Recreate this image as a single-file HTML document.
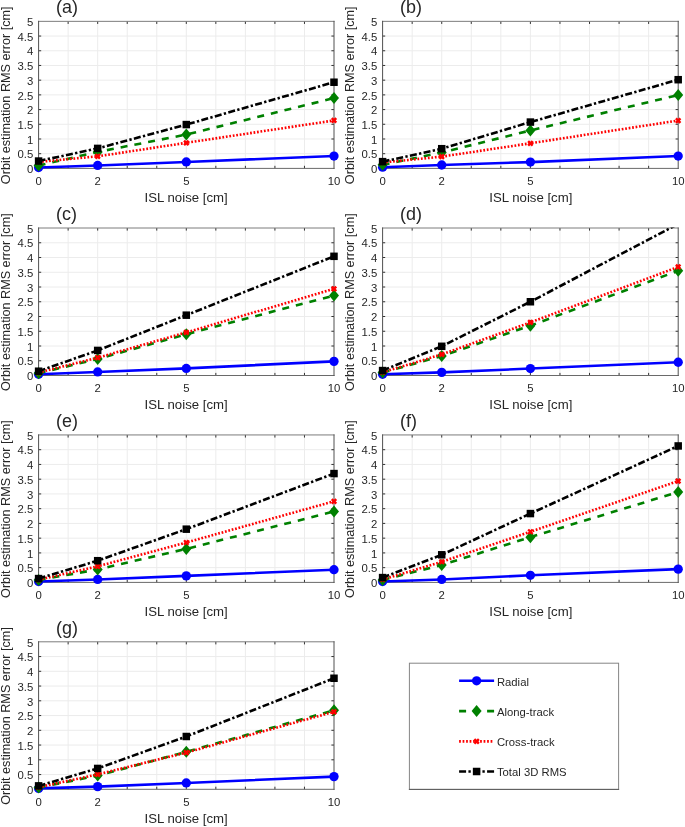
<!DOCTYPE html>
<html lang="en"><head><meta charset="utf-8"><title>Orbit estimation RMS error vs ISL noise</title>
<style>
html,body{margin:0;padding:0;background:#fff}
svg{display:block;font-family:'Liberation Sans', sans-serif;fill:#262626}
</style></head>
<body>
<svg width="685" height="827" viewBox="0 0 685 827">
<rect width="685" height="827" fill="#fff"/>
<g id="ax-a">
<path d="M68.14 21.35V168.4M97.68 21.35V168.4M127.22 21.35V168.4M156.76 21.35V168.4M186.3 21.35V168.4M215.84 21.35V168.4M245.38 21.35V168.4M274.92 21.35V168.4M304.46 21.35V168.4M38.6 153.69H334M38.6 138.99H334M38.6 124.28H334M38.6 109.58H334M38.6 94.88H334M38.6 80.17H334M38.6 65.46H334M38.6 50.76H334M38.6 36.05H334" stroke="#ececec" stroke-width="1" fill="none"/>
<path d="M68.14 168.4v-2.6M68.14 21.35v2.6M97.68 168.4v-2.6M97.68 21.35v2.6M127.22 168.4v-2.6M127.22 21.35v2.6M156.76 168.4v-2.6M156.76 21.35v2.6M186.3 168.4v-2.6M186.3 21.35v2.6M215.84 168.4v-2.6M215.84 21.35v2.6M245.38 168.4v-2.6M245.38 21.35v2.6M274.92 168.4v-2.6M274.92 21.35v2.6M304.46 168.4v-2.6M304.46 21.35v2.6M38.6 153.69h2.6M334 153.69h-2.6M38.6 138.99h2.6M334 138.99h-2.6M38.6 124.28h2.6M334 124.28h-2.6M38.6 109.58h2.6M334 109.58h-2.6M38.6 94.88h2.6M334 94.88h-2.6M38.6 80.17h2.6M334 80.17h-2.6M38.6 65.46h2.6M334 65.46h-2.6M38.6 50.76h2.6M334 50.76h-2.6M38.6 36.05h2.6M334 36.05h-2.6" stroke="#333" stroke-width="1" fill="none"/>
<path d="M38.1 21.35H334.5" stroke="#7c7c7c" stroke-width="1" fill="none"/>
<path d="M38.1 168.4H334.5" stroke="#6a6a6a" stroke-width="1" fill="none"/>
<path d="M38.6 20.85V168.9M334 20.85V168.9" stroke="#505050" stroke-width="1" fill="none"/>
<clipPath id="cp-a"><rect x="38.1" y="20.85" width="296.4" height="148.05"/></clipPath>
<text transform="translate(33.3,173.1) scale(1,0.91)" font-size="11.35" text-anchor="end">0</text>
<text transform="translate(33.3,158.39) scale(1,0.91)" font-size="11.35" text-anchor="end">0.5</text>
<text transform="translate(33.3,143.69) scale(1,0.91)" font-size="11.35" text-anchor="end">1</text>
<text transform="translate(33.3,128.98) scale(1,0.91)" font-size="11.35" text-anchor="end">1.5</text>
<text transform="translate(33.3,114.28) scale(1,0.91)" font-size="11.35" text-anchor="end">2</text>
<text transform="translate(33.3,99.58) scale(1,0.91)" font-size="11.35" text-anchor="end">2.5</text>
<text transform="translate(33.3,84.87) scale(1,0.91)" font-size="11.35" text-anchor="end">3</text>
<text transform="translate(33.3,70.16) scale(1,0.91)" font-size="11.35" text-anchor="end">3.5</text>
<text transform="translate(33.3,55.46) scale(1,0.91)" font-size="11.35" text-anchor="end">4</text>
<text transform="translate(33.3,40.75) scale(1,0.91)" font-size="11.35" text-anchor="end">4.5</text>
<text transform="translate(33.3,26.05) scale(1,0.91)" font-size="11.35" text-anchor="end">5</text>
<text transform="translate(38.6,185.2) scale(1,0.91)" font-size="11.35" text-anchor="middle">0</text>
<text transform="translate(97.68,185.2) scale(1,0.91)" font-size="11.35" text-anchor="middle">2</text>
<text transform="translate(186.3,185.2) scale(1,0.91)" font-size="11.35" text-anchor="middle">5</text>
<text transform="translate(334,185.2) scale(1,0.91)" font-size="11.35" text-anchor="middle">10</text>
<text transform="translate(186.1,202.3) scale(1,0.93)" font-size="13.2" text-anchor="middle">ISL noise [cm]</text>
<text transform="translate(10.3,95.28) rotate(-90)" font-size="12.65" text-anchor="middle">Orbit estimation RMS error [cm]</text>
<text transform="translate(56.1,13.05) scale(1,0.97)" font-size="18" text-anchor="start">(a)</text>
<polyline points="38.6,167.52 97.68,165.46 186.3,161.93 334,156.05" fill="none" stroke="#0000ff" stroke-width="2.6" clip-path="url(#cp-a)"/>
<circle cx="38.6" cy="167.52" r="4.65" fill="#0000ff"/>
<circle cx="97.68" cy="165.46" r="4.65" fill="#0000ff"/>
<circle cx="186.3" cy="161.93" r="4.65" fill="#0000ff"/>
<circle cx="334" cy="156.05" r="4.65" fill="#0000ff"/>
<polyline points="38.6,165.46 97.68,151.93 186.3,134.58 334,98.11" fill="none" stroke="#008000" stroke-width="2.6" stroke-dasharray="7 7" clip-path="url(#cp-a)"/>
<polygon points="33.6,165.46 38.6,159.46 43.6,165.46 38.6,171.46" fill="#008000"/>
<polygon points="92.68,151.93 97.68,145.93 102.68,151.93 97.68,157.93" fill="#008000"/>
<polygon points="181.3,134.58 186.3,128.58 191.3,134.58 186.3,140.58" fill="#008000"/>
<polygon points="329,98.11 334,92.11 339,98.11 334,104.11" fill="#008000"/>
<polyline points="38.6,161.93 97.68,156.34 186.3,142.81 334,120.46" fill="none" stroke="#ff0000" stroke-width="2.6" stroke-dasharray="1.75 1.75" clip-path="url(#cp-a)"/>
<path d="M36.35 159.68L40.85 164.18M36.35 164.18L40.85 159.68" stroke="#ff0000" stroke-width="2.4" fill="none"/>
<path d="M95.43 154.09L99.93 158.59M95.43 158.59L99.93 154.09" stroke="#ff0000" stroke-width="2.4" fill="none"/>
<path d="M184.05 140.56L188.55 145.06M184.05 145.06L188.55 140.56" stroke="#ff0000" stroke-width="2.4" fill="none"/>
<path d="M331.75 118.21L336.25 122.71M331.75 122.71L336.25 118.21" stroke="#ff0000" stroke-width="2.4" fill="none"/>
<polyline points="38.6,161.05 97.68,148.4 186.3,124.58 334,82.23" fill="none" stroke="#000000" stroke-width="2.6" stroke-dasharray="7 2.33 2.33 2.33" clip-path="url(#cp-a)"/>
<rect x="34.85" y="157.3" width="7.5" height="7.5" fill="#000"/>
<rect x="93.93" y="144.65" width="7.5" height="7.5" fill="#000"/>
<rect x="182.55" y="120.83" width="7.5" height="7.5" fill="#000"/>
<rect x="330.25" y="78.48" width="7.5" height="7.5" fill="#000"/>
</g>
<g id="ax-b">
<path d="M412.16 21.35V168.4M441.72 21.35V168.4M471.28 21.35V168.4M500.84 21.35V168.4M530.4 21.35V168.4M559.96 21.35V168.4M589.52 21.35V168.4M619.08 21.35V168.4M648.64 21.35V168.4M382.6 153.69H678.2M382.6 138.99H678.2M382.6 124.28H678.2M382.6 109.58H678.2M382.6 94.88H678.2M382.6 80.17H678.2M382.6 65.46H678.2M382.6 50.76H678.2M382.6 36.05H678.2" stroke="#ececec" stroke-width="1" fill="none"/>
<path d="M412.16 168.4v-2.6M412.16 21.35v2.6M441.72 168.4v-2.6M441.72 21.35v2.6M471.28 168.4v-2.6M471.28 21.35v2.6M500.84 168.4v-2.6M500.84 21.35v2.6M530.4 168.4v-2.6M530.4 21.35v2.6M559.96 168.4v-2.6M559.96 21.35v2.6M589.52 168.4v-2.6M589.52 21.35v2.6M619.08 168.4v-2.6M619.08 21.35v2.6M648.64 168.4v-2.6M648.64 21.35v2.6M382.6 153.69h2.6M678.2 153.69h-2.6M382.6 138.99h2.6M678.2 138.99h-2.6M382.6 124.28h2.6M678.2 124.28h-2.6M382.6 109.58h2.6M678.2 109.58h-2.6M382.6 94.88h2.6M678.2 94.88h-2.6M382.6 80.17h2.6M678.2 80.17h-2.6M382.6 65.46h2.6M678.2 65.46h-2.6M382.6 50.76h2.6M678.2 50.76h-2.6M382.6 36.05h2.6M678.2 36.05h-2.6" stroke="#333" stroke-width="1" fill="none"/>
<path d="M382.1 21.35H678.7" stroke="#7c7c7c" stroke-width="1" fill="none"/>
<path d="M382.1 168.4H678.7" stroke="#6a6a6a" stroke-width="1" fill="none"/>
<path d="M382.6 20.85V168.9M678.2 20.85V168.9" stroke="#505050" stroke-width="1" fill="none"/>
<clipPath id="cp-b"><rect x="382.1" y="20.85" width="296.6" height="148.05"/></clipPath>
<text transform="translate(377.3,173.1) scale(1,0.91)" font-size="11.35" text-anchor="end">0</text>
<text transform="translate(377.3,158.39) scale(1,0.91)" font-size="11.35" text-anchor="end">0.5</text>
<text transform="translate(377.3,143.69) scale(1,0.91)" font-size="11.35" text-anchor="end">1</text>
<text transform="translate(377.3,128.98) scale(1,0.91)" font-size="11.35" text-anchor="end">1.5</text>
<text transform="translate(377.3,114.28) scale(1,0.91)" font-size="11.35" text-anchor="end">2</text>
<text transform="translate(377.3,99.58) scale(1,0.91)" font-size="11.35" text-anchor="end">2.5</text>
<text transform="translate(377.3,84.87) scale(1,0.91)" font-size="11.35" text-anchor="end">3</text>
<text transform="translate(377.3,70.16) scale(1,0.91)" font-size="11.35" text-anchor="end">3.5</text>
<text transform="translate(377.3,55.46) scale(1,0.91)" font-size="11.35" text-anchor="end">4</text>
<text transform="translate(377.3,40.75) scale(1,0.91)" font-size="11.35" text-anchor="end">4.5</text>
<text transform="translate(377.3,26.05) scale(1,0.91)" font-size="11.35" text-anchor="end">5</text>
<text transform="translate(382.6,185.2) scale(1,0.91)" font-size="11.35" text-anchor="middle">0</text>
<text transform="translate(441.72,185.2) scale(1,0.91)" font-size="11.35" text-anchor="middle">2</text>
<text transform="translate(530.4,185.2) scale(1,0.91)" font-size="11.35" text-anchor="middle">5</text>
<text transform="translate(678.2,185.2) scale(1,0.91)" font-size="11.35" text-anchor="middle">10</text>
<text transform="translate(530.8,202.3) scale(1,0.93)" font-size="13.2" text-anchor="middle">ISL noise [cm]</text>
<text transform="translate(354.3,95.28) rotate(-90)" font-size="12.65" text-anchor="middle">Orbit estimation RMS error [cm]</text>
<text transform="translate(400.1,13.05) scale(1,0.97)" font-size="18" text-anchor="start">(b)</text>
<polyline points="382.6,167.22 441.72,165.02 530.4,162.08 678.2,156.05" fill="none" stroke="#0000ff" stroke-width="2.6" clip-path="url(#cp-b)"/>
<circle cx="382.6" cy="167.22" r="4.65" fill="#0000ff"/>
<circle cx="441.72" cy="165.02" r="4.65" fill="#0000ff"/>
<circle cx="530.4" cy="162.08" r="4.65" fill="#0000ff"/>
<circle cx="678.2" cy="156.05" r="4.65" fill="#0000ff"/>
<polyline points="382.6,164.87 441.72,152.52 530.4,130.46 678.2,95.02" fill="none" stroke="#008000" stroke-width="2.6" stroke-dasharray="7 7" clip-path="url(#cp-b)"/>
<polygon points="377.6,164.87 382.6,158.87 387.6,164.87 382.6,170.87" fill="#008000"/>
<polygon points="436.72,152.52 441.72,146.52 446.72,152.52 441.72,158.52" fill="#008000"/>
<polygon points="525.4,130.46 530.4,124.46 535.4,130.46 530.4,136.46" fill="#008000"/>
<polygon points="673.2,95.02 678.2,89.02 683.2,95.02 678.2,101.02" fill="#008000"/>
<polyline points="382.6,162.52 441.72,156.64 530.4,143.28 678.2,120.55" fill="none" stroke="#ff0000" stroke-width="2.6" stroke-dasharray="1.75 1.75" clip-path="url(#cp-b)"/>
<path d="M380.35 160.27L384.85 164.77M380.35 164.77L384.85 160.27" stroke="#ff0000" stroke-width="2.4" fill="none"/>
<path d="M439.47 154.39L443.97 158.89M439.47 158.89L443.97 154.39" stroke="#ff0000" stroke-width="2.4" fill="none"/>
<path d="M528.15 141.03L532.65 145.53M528.15 145.53L532.65 141.03" stroke="#ff0000" stroke-width="2.4" fill="none"/>
<path d="M675.95 118.3L680.45 122.8M675.95 122.8L680.45 118.3" stroke="#ff0000" stroke-width="2.4" fill="none"/>
<polyline points="382.6,161.64 441.72,148.7 530.4,122.08 678.2,79.7" fill="none" stroke="#000000" stroke-width="2.6" stroke-dasharray="7 2.33 2.33 2.33" clip-path="url(#cp-b)"/>
<rect x="378.85" y="157.89" width="7.5" height="7.5" fill="#000"/>
<rect x="437.97" y="144.95" width="7.5" height="7.5" fill="#000"/>
<rect x="526.65" y="118.33" width="7.5" height="7.5" fill="#000"/>
<rect x="674.45" y="75.95" width="7.5" height="7.5" fill="#000"/>
</g>
<g id="ax-c">
<path d="M68.14 228V375.5M97.68 228V375.5M127.22 228V375.5M156.76 228V375.5M186.3 228V375.5M215.84 228V375.5M245.38 228V375.5M274.92 228V375.5M304.46 228V375.5M38.6 360.75H334M38.6 346H334M38.6 331.25H334M38.6 316.5H334M38.6 301.75H334M38.6 287H334M38.6 272.25H334M38.6 257.5H334M38.6 242.75H334" stroke="#ececec" stroke-width="1" fill="none"/>
<path d="M68.14 375.5v-2.6M68.14 228v2.6M97.68 375.5v-2.6M97.68 228v2.6M127.22 375.5v-2.6M127.22 228v2.6M156.76 375.5v-2.6M156.76 228v2.6M186.3 375.5v-2.6M186.3 228v2.6M215.84 375.5v-2.6M215.84 228v2.6M245.38 375.5v-2.6M245.38 228v2.6M274.92 375.5v-2.6M274.92 228v2.6M304.46 375.5v-2.6M304.46 228v2.6M38.6 360.75h2.6M334 360.75h-2.6M38.6 346h2.6M334 346h-2.6M38.6 331.25h2.6M334 331.25h-2.6M38.6 316.5h2.6M334 316.5h-2.6M38.6 301.75h2.6M334 301.75h-2.6M38.6 287h2.6M334 287h-2.6M38.6 272.25h2.6M334 272.25h-2.6M38.6 257.5h2.6M334 257.5h-2.6M38.6 242.75h2.6M334 242.75h-2.6" stroke="#333" stroke-width="1" fill="none"/>
<path d="M38.1 228H334.5" stroke="#7c7c7c" stroke-width="1" fill="none"/>
<path d="M38.1 375.5H334.5" stroke="#6a6a6a" stroke-width="1" fill="none"/>
<path d="M38.6 227.5V376M334 227.5V376" stroke="#505050" stroke-width="1" fill="none"/>
<clipPath id="cp-c"><rect x="38.1" y="227.5" width="296.4" height="148.5"/></clipPath>
<text transform="translate(33.3,380.2) scale(1,0.91)" font-size="11.35" text-anchor="end">0</text>
<text transform="translate(33.3,365.45) scale(1,0.91)" font-size="11.35" text-anchor="end">0.5</text>
<text transform="translate(33.3,350.7) scale(1,0.91)" font-size="11.35" text-anchor="end">1</text>
<text transform="translate(33.3,335.95) scale(1,0.91)" font-size="11.35" text-anchor="end">1.5</text>
<text transform="translate(33.3,321.2) scale(1,0.91)" font-size="11.35" text-anchor="end">2</text>
<text transform="translate(33.3,306.45) scale(1,0.91)" font-size="11.35" text-anchor="end">2.5</text>
<text transform="translate(33.3,291.7) scale(1,0.91)" font-size="11.35" text-anchor="end">3</text>
<text transform="translate(33.3,276.95) scale(1,0.91)" font-size="11.35" text-anchor="end">3.5</text>
<text transform="translate(33.3,262.2) scale(1,0.91)" font-size="11.35" text-anchor="end">4</text>
<text transform="translate(33.3,247.45) scale(1,0.91)" font-size="11.35" text-anchor="end">4.5</text>
<text transform="translate(33.3,232.7) scale(1,0.91)" font-size="11.35" text-anchor="end">5</text>
<text transform="translate(38.6,392.3) scale(1,0.91)" font-size="11.35" text-anchor="middle">0</text>
<text transform="translate(97.68,392.3) scale(1,0.91)" font-size="11.35" text-anchor="middle">2</text>
<text transform="translate(186.3,392.3) scale(1,0.91)" font-size="11.35" text-anchor="middle">5</text>
<text transform="translate(334,392.3) scale(1,0.91)" font-size="11.35" text-anchor="middle">10</text>
<text transform="translate(186.1,409.4) scale(1,0.93)" font-size="13.2" text-anchor="middle">ISL noise [cm]</text>
<text transform="translate(10.3,302.15) rotate(-90)" font-size="12.65" text-anchor="middle">Orbit estimation RMS error [cm]</text>
<text transform="translate(56.1,219.7) scale(1,0.97)" font-size="18" text-anchor="start">(c)</text>
<polyline points="38.6,374.32 97.68,371.96 186.3,368.42 334,361.34" fill="none" stroke="#0000ff" stroke-width="2.6" clip-path="url(#cp-c)"/>
<circle cx="38.6" cy="374.32" r="4.65" fill="#0000ff"/>
<circle cx="97.68" cy="371.96" r="4.65" fill="#0000ff"/>
<circle cx="186.3" cy="368.42" r="4.65" fill="#0000ff"/>
<circle cx="334" cy="361.34" r="4.65" fill="#0000ff"/>
<polyline points="38.6,373.14 97.68,358.98 186.3,334.2 334,295.56" fill="none" stroke="#008000" stroke-width="2.6" stroke-dasharray="7 7" clip-path="url(#cp-c)"/>
<polygon points="33.6,373.14 38.6,367.14 43.6,373.14 38.6,379.14" fill="#008000"/>
<polygon points="92.68,358.98 97.68,352.98 102.68,358.98 97.68,364.98" fill="#008000"/>
<polygon points="181.3,334.2 186.3,328.2 191.3,334.2 186.3,340.2" fill="#008000"/>
<polygon points="329,295.56 334,289.56 339,295.56 334,301.56" fill="#008000"/>
<polyline points="38.6,372.55 97.68,357.65 186.3,332.43 334,288.86" fill="none" stroke="#ff0000" stroke-width="2.6" stroke-dasharray="1.75 1.75" clip-path="url(#cp-c)"/>
<path d="M36.35 370.3L40.85 374.8M36.35 374.8L40.85 370.3" stroke="#ff0000" stroke-width="2.4" fill="none"/>
<path d="M95.43 355.4L99.93 359.9M95.43 359.9L99.93 355.4" stroke="#ff0000" stroke-width="2.4" fill="none"/>
<path d="M184.05 330.18L188.55 334.68M184.05 334.68L188.55 330.18" stroke="#ff0000" stroke-width="2.4" fill="none"/>
<path d="M331.75 286.61L336.25 291.11M331.75 291.11L336.25 286.61" stroke="#ff0000" stroke-width="2.4" fill="none"/>
<polyline points="38.6,371.22 97.68,350.43 186.3,315.17 334,256.32" fill="none" stroke="#000000" stroke-width="2.6" stroke-dasharray="7 2.33 2.33 2.33" clip-path="url(#cp-c)"/>
<rect x="34.85" y="367.47" width="7.5" height="7.5" fill="#000"/>
<rect x="93.93" y="346.68" width="7.5" height="7.5" fill="#000"/>
<rect x="182.55" y="311.42" width="7.5" height="7.5" fill="#000"/>
<rect x="330.25" y="252.57" width="7.5" height="7.5" fill="#000"/>
</g>
<g id="ax-d">
<path d="M412.16 228V375.5M441.72 228V375.5M471.28 228V375.5M500.84 228V375.5M530.4 228V375.5M559.96 228V375.5M589.52 228V375.5M619.08 228V375.5M648.64 228V375.5M382.6 360.75H678.2M382.6 346H678.2M382.6 331.25H678.2M382.6 316.5H678.2M382.6 301.75H678.2M382.6 287H678.2M382.6 272.25H678.2M382.6 257.5H678.2M382.6 242.75H678.2" stroke="#ececec" stroke-width="1" fill="none"/>
<path d="M412.16 375.5v-2.6M412.16 228v2.6M441.72 375.5v-2.6M441.72 228v2.6M471.28 375.5v-2.6M471.28 228v2.6M500.84 375.5v-2.6M500.84 228v2.6M530.4 375.5v-2.6M530.4 228v2.6M559.96 375.5v-2.6M559.96 228v2.6M589.52 375.5v-2.6M589.52 228v2.6M619.08 375.5v-2.6M619.08 228v2.6M648.64 375.5v-2.6M648.64 228v2.6M382.6 360.75h2.6M678.2 360.75h-2.6M382.6 346h2.6M678.2 346h-2.6M382.6 331.25h2.6M678.2 331.25h-2.6M382.6 316.5h2.6M678.2 316.5h-2.6M382.6 301.75h2.6M678.2 301.75h-2.6M382.6 287h2.6M678.2 287h-2.6M382.6 272.25h2.6M678.2 272.25h-2.6M382.6 257.5h2.6M678.2 257.5h-2.6M382.6 242.75h2.6M678.2 242.75h-2.6" stroke="#333" stroke-width="1" fill="none"/>
<path d="M382.1 228H678.7" stroke="#7c7c7c" stroke-width="1" fill="none"/>
<path d="M382.1 375.5H678.7" stroke="#6a6a6a" stroke-width="1" fill="none"/>
<path d="M382.6 227.5V376M678.2 227.5V376" stroke="#505050" stroke-width="1" fill="none"/>
<clipPath id="cp-d"><rect x="382.1" y="227.5" width="296.6" height="148.5"/></clipPath>
<text transform="translate(377.3,380.2) scale(1,0.91)" font-size="11.35" text-anchor="end">0</text>
<text transform="translate(377.3,365.45) scale(1,0.91)" font-size="11.35" text-anchor="end">0.5</text>
<text transform="translate(377.3,350.7) scale(1,0.91)" font-size="11.35" text-anchor="end">1</text>
<text transform="translate(377.3,335.95) scale(1,0.91)" font-size="11.35" text-anchor="end">1.5</text>
<text transform="translate(377.3,321.2) scale(1,0.91)" font-size="11.35" text-anchor="end">2</text>
<text transform="translate(377.3,306.45) scale(1,0.91)" font-size="11.35" text-anchor="end">2.5</text>
<text transform="translate(377.3,291.7) scale(1,0.91)" font-size="11.35" text-anchor="end">3</text>
<text transform="translate(377.3,276.95) scale(1,0.91)" font-size="11.35" text-anchor="end">3.5</text>
<text transform="translate(377.3,262.2) scale(1,0.91)" font-size="11.35" text-anchor="end">4</text>
<text transform="translate(377.3,247.45) scale(1,0.91)" font-size="11.35" text-anchor="end">4.5</text>
<text transform="translate(377.3,232.7) scale(1,0.91)" font-size="11.35" text-anchor="end">5</text>
<text transform="translate(382.6,392.3) scale(1,0.91)" font-size="11.35" text-anchor="middle">0</text>
<text transform="translate(441.72,392.3) scale(1,0.91)" font-size="11.35" text-anchor="middle">2</text>
<text transform="translate(530.4,392.3) scale(1,0.91)" font-size="11.35" text-anchor="middle">5</text>
<text transform="translate(678.2,392.3) scale(1,0.91)" font-size="11.35" text-anchor="middle">10</text>
<text transform="translate(530.8,409.4) scale(1,0.93)" font-size="13.2" text-anchor="middle">ISL noise [cm]</text>
<text transform="translate(354.3,302.15) rotate(-90)" font-size="12.65" text-anchor="middle">Orbit estimation RMS error [cm]</text>
<text transform="translate(400.1,219.7) scale(1,0.97)" font-size="18" text-anchor="start">(d)</text>
<polyline points="382.6,374.32 441.72,372.37 530.4,368.57 678.2,362.23" fill="none" stroke="#0000ff" stroke-width="2.6" clip-path="url(#cp-d)"/>
<circle cx="382.6" cy="374.32" r="4.65" fill="#0000ff"/>
<circle cx="441.72" cy="372.37" r="4.65" fill="#0000ff"/>
<circle cx="530.4" cy="368.57" r="4.65" fill="#0000ff"/>
<circle cx="678.2" cy="362.23" r="4.65" fill="#0000ff"/>
<polyline points="382.6,372.55 441.72,356.03 530.4,325.64 678.2,270.77" fill="none" stroke="#008000" stroke-width="2.6" stroke-dasharray="7 7" clip-path="url(#cp-d)"/>
<polygon points="377.6,372.55 382.6,366.55 387.6,372.55 382.6,378.55" fill="#008000"/>
<polygon points="436.72,356.03 441.72,350.03 446.72,356.03 441.72,362.03" fill="#008000"/>
<polygon points="525.4,325.64 530.4,319.64 535.4,325.64 530.4,331.64" fill="#008000"/>
<polygon points="673.2,270.77 678.2,264.77 683.2,270.77 678.2,276.77" fill="#008000"/>
<polyline points="382.6,372.25 441.72,354.44 530.4,322.4 678.2,266.94" fill="none" stroke="#ff0000" stroke-width="2.6" stroke-dasharray="1.75 1.75" clip-path="url(#cp-d)"/>
<path d="M380.35 370L384.85 374.5M380.35 374.5L384.85 370" stroke="#ff0000" stroke-width="2.4" fill="none"/>
<path d="M439.47 352.19L443.97 356.69M439.47 356.69L443.97 352.19" stroke="#ff0000" stroke-width="2.4" fill="none"/>
<path d="M528.15 320.15L532.65 324.65M528.15 324.65L532.65 320.15" stroke="#ff0000" stroke-width="2.4" fill="none"/>
<path d="M675.95 264.69L680.45 269.19M675.95 269.19L680.45 264.69" stroke="#ff0000" stroke-width="2.4" fill="none"/>
<polyline points="382.6,370.57 441.72,346.3 530.4,301.75 678.2,223.96" fill="none" stroke="#000000" stroke-width="2.6" stroke-dasharray="7 2.33 2.33 2.33" clip-path="url(#cp-d)"/>
<rect x="378.85" y="366.82" width="7.5" height="7.5" fill="#000"/>
<rect x="437.97" y="342.55" width="7.5" height="7.5" fill="#000"/>
<rect x="526.65" y="298" width="7.5" height="7.5" fill="#000"/>
</g>
<g id="ax-e">
<path d="M68.14 434.95V582.4M97.68 434.95V582.4M127.22 434.95V582.4M156.76 434.95V582.4M186.3 434.95V582.4M215.84 434.95V582.4M245.38 434.95V582.4M274.92 434.95V582.4M304.46 434.95V582.4M38.6 567.65H334M38.6 552.91H334M38.6 538.16H334M38.6 523.42H334M38.6 508.67H334M38.6 493.93H334M38.6 479.19H334M38.6 464.44H334M38.6 449.69H334" stroke="#ececec" stroke-width="1" fill="none"/>
<path d="M68.14 582.4v-2.6M68.14 434.95v2.6M97.68 582.4v-2.6M97.68 434.95v2.6M127.22 582.4v-2.6M127.22 434.95v2.6M156.76 582.4v-2.6M156.76 434.95v2.6M186.3 582.4v-2.6M186.3 434.95v2.6M215.84 582.4v-2.6M215.84 434.95v2.6M245.38 582.4v-2.6M245.38 434.95v2.6M274.92 582.4v-2.6M274.92 434.95v2.6M304.46 582.4v-2.6M304.46 434.95v2.6M38.6 567.65h2.6M334 567.65h-2.6M38.6 552.91h2.6M334 552.91h-2.6M38.6 538.16h2.6M334 538.16h-2.6M38.6 523.42h2.6M334 523.42h-2.6M38.6 508.67h2.6M334 508.67h-2.6M38.6 493.93h2.6M334 493.93h-2.6M38.6 479.19h2.6M334 479.19h-2.6M38.6 464.44h2.6M334 464.44h-2.6M38.6 449.69h2.6M334 449.69h-2.6" stroke="#333" stroke-width="1" fill="none"/>
<path d="M38.1 434.95H334.5" stroke="#7c7c7c" stroke-width="1" fill="none"/>
<path d="M38.1 582.4H334.5" stroke="#6a6a6a" stroke-width="1" fill="none"/>
<path d="M38.6 434.45V582.9M334 434.45V582.9" stroke="#505050" stroke-width="1" fill="none"/>
<clipPath id="cp-e"><rect x="38.1" y="434.45" width="296.4" height="148.45"/></clipPath>
<text transform="translate(33.3,587.1) scale(1,0.91)" font-size="11.35" text-anchor="end">0</text>
<text transform="translate(33.3,572.36) scale(1,0.91)" font-size="11.35" text-anchor="end">0.5</text>
<text transform="translate(33.3,557.61) scale(1,0.91)" font-size="11.35" text-anchor="end">1</text>
<text transform="translate(33.3,542.87) scale(1,0.91)" font-size="11.35" text-anchor="end">1.5</text>
<text transform="translate(33.3,528.12) scale(1,0.91)" font-size="11.35" text-anchor="end">2</text>
<text transform="translate(33.3,513.38) scale(1,0.91)" font-size="11.35" text-anchor="end">2.5</text>
<text transform="translate(33.3,498.63) scale(1,0.91)" font-size="11.35" text-anchor="end">3</text>
<text transform="translate(33.3,483.88) scale(1,0.91)" font-size="11.35" text-anchor="end">3.5</text>
<text transform="translate(33.3,469.14) scale(1,0.91)" font-size="11.35" text-anchor="end">4</text>
<text transform="translate(33.3,454.39) scale(1,0.91)" font-size="11.35" text-anchor="end">4.5</text>
<text transform="translate(33.3,439.65) scale(1,0.91)" font-size="11.35" text-anchor="end">5</text>
<text transform="translate(38.6,599.2) scale(1,0.91)" font-size="11.35" text-anchor="middle">0</text>
<text transform="translate(97.68,599.2) scale(1,0.91)" font-size="11.35" text-anchor="middle">2</text>
<text transform="translate(186.3,599.2) scale(1,0.91)" font-size="11.35" text-anchor="middle">5</text>
<text transform="translate(334,599.2) scale(1,0.91)" font-size="11.35" text-anchor="middle">10</text>
<text transform="translate(186.1,616.3) scale(1,0.93)" font-size="13.2" text-anchor="middle">ISL noise [cm]</text>
<text transform="translate(10.3,509.07) rotate(-90)" font-size="12.65" text-anchor="middle">Orbit estimation RMS error [cm]</text>
<text transform="translate(56.1,426.65) scale(1,0.97)" font-size="18" text-anchor="start">(e)</text>
<polyline points="38.6,581.52 97.68,579.45 186.3,575.91 334,569.72" fill="none" stroke="#0000ff" stroke-width="2.6" clip-path="url(#cp-e)"/>
<circle cx="38.6" cy="581.52" r="4.65" fill="#0000ff"/>
<circle cx="97.68" cy="579.45" r="4.65" fill="#0000ff"/>
<circle cx="186.3" cy="575.91" r="4.65" fill="#0000ff"/>
<circle cx="334" cy="569.72" r="4.65" fill="#0000ff"/>
<polyline points="38.6,580.04 97.68,569.42 186.3,548.9 334,511.51" fill="none" stroke="#008000" stroke-width="2.6" stroke-dasharray="7 7" clip-path="url(#cp-e)"/>
<polygon points="33.6,580.04 38.6,574.04 43.6,580.04 38.6,586.04" fill="#008000"/>
<polygon points="92.68,569.42 97.68,563.42 102.68,569.42 97.68,575.42" fill="#008000"/>
<polygon points="181.3,548.9 186.3,542.9 191.3,548.9 186.3,554.9" fill="#008000"/>
<polygon points="329,511.51 334,505.51 339,511.51 334,517.51" fill="#008000"/>
<polyline points="38.6,579.75 97.68,566.33 186.3,542.5 334,501.3" fill="none" stroke="#ff0000" stroke-width="2.6" stroke-dasharray="1.75 1.75" clip-path="url(#cp-e)"/>
<path d="M36.35 577.5L40.85 582M36.35 582L40.85 577.5" stroke="#ff0000" stroke-width="2.4" fill="none"/>
<path d="M95.43 564.08L99.93 568.58M95.43 568.58L99.93 564.08" stroke="#ff0000" stroke-width="2.4" fill="none"/>
<path d="M184.05 540.25L188.55 544.75M184.05 544.75L188.55 540.25" stroke="#ff0000" stroke-width="2.4" fill="none"/>
<path d="M331.75 499.05L336.25 503.55M331.75 503.55L336.25 499.05" stroke="#ff0000" stroke-width="2.4" fill="none"/>
<polyline points="38.6,578.57 97.68,560.7 186.3,529.17 334,473.58" fill="none" stroke="#000000" stroke-width="2.6" stroke-dasharray="7 2.33 2.33 2.33" clip-path="url(#cp-e)"/>
<rect x="34.85" y="574.82" width="7.5" height="7.5" fill="#000"/>
<rect x="93.93" y="556.95" width="7.5" height="7.5" fill="#000"/>
<rect x="182.55" y="525.42" width="7.5" height="7.5" fill="#000"/>
<rect x="330.25" y="469.83" width="7.5" height="7.5" fill="#000"/>
</g>
<g id="ax-f">
<path d="M412.16 434.95V582.4M441.72 434.95V582.4M471.28 434.95V582.4M500.84 434.95V582.4M530.4 434.95V582.4M559.96 434.95V582.4M589.52 434.95V582.4M619.08 434.95V582.4M648.64 434.95V582.4M382.6 567.65H678.2M382.6 552.91H678.2M382.6 538.16H678.2M382.6 523.42H678.2M382.6 508.67H678.2M382.6 493.93H678.2M382.6 479.19H678.2M382.6 464.44H678.2M382.6 449.69H678.2" stroke="#ececec" stroke-width="1" fill="none"/>
<path d="M412.16 582.4v-2.6M412.16 434.95v2.6M441.72 582.4v-2.6M441.72 434.95v2.6M471.28 582.4v-2.6M471.28 434.95v2.6M500.84 582.4v-2.6M500.84 434.95v2.6M530.4 582.4v-2.6M530.4 434.95v2.6M559.96 582.4v-2.6M559.96 434.95v2.6M589.52 582.4v-2.6M589.52 434.95v2.6M619.08 582.4v-2.6M619.08 434.95v2.6M648.64 582.4v-2.6M648.64 434.95v2.6M382.6 567.65h2.6M678.2 567.65h-2.6M382.6 552.91h2.6M678.2 552.91h-2.6M382.6 538.16h2.6M678.2 538.16h-2.6M382.6 523.42h2.6M678.2 523.42h-2.6M382.6 508.67h2.6M678.2 508.67h-2.6M382.6 493.93h2.6M678.2 493.93h-2.6M382.6 479.19h2.6M678.2 479.19h-2.6M382.6 464.44h2.6M678.2 464.44h-2.6M382.6 449.69h2.6M678.2 449.69h-2.6" stroke="#333" stroke-width="1" fill="none"/>
<path d="M382.1 434.95H678.7" stroke="#7c7c7c" stroke-width="1" fill="none"/>
<path d="M382.1 582.4H678.7" stroke="#6a6a6a" stroke-width="1" fill="none"/>
<path d="M382.6 434.45V582.9M678.2 434.45V582.9" stroke="#505050" stroke-width="1" fill="none"/>
<clipPath id="cp-f"><rect x="382.1" y="434.45" width="296.6" height="148.45"/></clipPath>
<text transform="translate(377.3,587.1) scale(1,0.91)" font-size="11.35" text-anchor="end">0</text>
<text transform="translate(377.3,572.36) scale(1,0.91)" font-size="11.35" text-anchor="end">0.5</text>
<text transform="translate(377.3,557.61) scale(1,0.91)" font-size="11.35" text-anchor="end">1</text>
<text transform="translate(377.3,542.87) scale(1,0.91)" font-size="11.35" text-anchor="end">1.5</text>
<text transform="translate(377.3,528.12) scale(1,0.91)" font-size="11.35" text-anchor="end">2</text>
<text transform="translate(377.3,513.38) scale(1,0.91)" font-size="11.35" text-anchor="end">2.5</text>
<text transform="translate(377.3,498.63) scale(1,0.91)" font-size="11.35" text-anchor="end">3</text>
<text transform="translate(377.3,483.88) scale(1,0.91)" font-size="11.35" text-anchor="end">3.5</text>
<text transform="translate(377.3,469.14) scale(1,0.91)" font-size="11.35" text-anchor="end">4</text>
<text transform="translate(377.3,454.39) scale(1,0.91)" font-size="11.35" text-anchor="end">4.5</text>
<text transform="translate(377.3,439.65) scale(1,0.91)" font-size="11.35" text-anchor="end">5</text>
<text transform="translate(382.6,599.2) scale(1,0.91)" font-size="11.35" text-anchor="middle">0</text>
<text transform="translate(441.72,599.2) scale(1,0.91)" font-size="11.35" text-anchor="middle">2</text>
<text transform="translate(530.4,599.2) scale(1,0.91)" font-size="11.35" text-anchor="middle">5</text>
<text transform="translate(678.2,599.2) scale(1,0.91)" font-size="11.35" text-anchor="middle">10</text>
<text transform="translate(530.8,616.3) scale(1,0.93)" font-size="13.2" text-anchor="middle">ISL noise [cm]</text>
<text transform="translate(354.3,509.07) rotate(-90)" font-size="12.65" text-anchor="middle">Orbit estimation RMS error [cm]</text>
<text transform="translate(400.1,426.65) scale(1,0.97)" font-size="18" text-anchor="start">(f)</text>
<polyline points="382.6,581.52 441.72,579.45 530.4,575.32 678.2,569.13" fill="none" stroke="#0000ff" stroke-width="2.6" clip-path="url(#cp-f)"/>
<circle cx="382.6" cy="581.52" r="4.65" fill="#0000ff"/>
<circle cx="441.72" cy="579.45" r="4.65" fill="#0000ff"/>
<circle cx="530.4" cy="575.32" r="4.65" fill="#0000ff"/>
<circle cx="678.2" cy="569.13" r="4.65" fill="#0000ff"/>
<polyline points="382.6,579.89 441.72,565 530.4,537.13 678.2,492.04" fill="none" stroke="#008000" stroke-width="2.6" stroke-dasharray="7 7" clip-path="url(#cp-f)"/>
<polygon points="377.6,579.89 382.6,573.89 387.6,579.89 382.6,585.89" fill="#008000"/>
<polygon points="436.72,565 441.72,559 446.72,565 441.72,571" fill="#008000"/>
<polygon points="525.4,537.13 530.4,531.13 535.4,537.13 530.4,543.13" fill="#008000"/>
<polygon points="673.2,492.04 678.2,486.04 683.2,492.04 678.2,498.04" fill="#008000"/>
<polyline points="382.6,579.45 441.72,561.76 530.4,531.74 678.2,481.04" fill="none" stroke="#ff0000" stroke-width="2.6" stroke-dasharray="1.75 1.75" clip-path="url(#cp-f)"/>
<path d="M380.35 577.2L384.85 581.7M380.35 581.7L384.85 577.2" stroke="#ff0000" stroke-width="2.4" fill="none"/>
<path d="M439.47 559.51L443.97 564.01M439.47 564.01L443.97 559.51" stroke="#ff0000" stroke-width="2.4" fill="none"/>
<path d="M528.15 529.49L532.65 533.99M528.15 533.99L532.65 529.49" stroke="#ff0000" stroke-width="2.4" fill="none"/>
<path d="M675.95 478.79L680.45 483.29M675.95 483.29L680.45 478.79" stroke="#ff0000" stroke-width="2.4" fill="none"/>
<polyline points="382.6,577.59 441.72,554.8 530.4,513.57 678.2,445.95" fill="none" stroke="#000000" stroke-width="2.6" stroke-dasharray="7 2.33 2.33 2.33" clip-path="url(#cp-f)"/>
<rect x="378.85" y="573.84" width="7.5" height="7.5" fill="#000"/>
<rect x="437.97" y="551.05" width="7.5" height="7.5" fill="#000"/>
<rect x="526.65" y="509.82" width="7.5" height="7.5" fill="#000"/>
<rect x="674.45" y="442.2" width="7.5" height="7.5" fill="#000"/>
</g>
<g id="ax-g">
<path d="M68.14 641.8V789.3M97.68 641.8V789.3M127.22 641.8V789.3M156.76 641.8V789.3M186.3 641.8V789.3M215.84 641.8V789.3M245.38 641.8V789.3M274.92 641.8V789.3M304.46 641.8V789.3M38.6 774.55H334M38.6 759.8H334M38.6 745.05H334M38.6 730.3H334M38.6 715.55H334M38.6 700.8H334M38.6 686.05H334M38.6 671.3H334M38.6 656.55H334" stroke="#ececec" stroke-width="1" fill="none"/>
<path d="M68.14 789.3v-2.6M68.14 641.8v2.6M97.68 789.3v-2.6M97.68 641.8v2.6M127.22 789.3v-2.6M127.22 641.8v2.6M156.76 789.3v-2.6M156.76 641.8v2.6M186.3 789.3v-2.6M186.3 641.8v2.6M215.84 789.3v-2.6M215.84 641.8v2.6M245.38 789.3v-2.6M245.38 641.8v2.6M274.92 789.3v-2.6M274.92 641.8v2.6M304.46 789.3v-2.6M304.46 641.8v2.6M38.6 774.55h2.6M334 774.55h-2.6M38.6 759.8h2.6M334 759.8h-2.6M38.6 745.05h2.6M334 745.05h-2.6M38.6 730.3h2.6M334 730.3h-2.6M38.6 715.55h2.6M334 715.55h-2.6M38.6 700.8h2.6M334 700.8h-2.6M38.6 686.05h2.6M334 686.05h-2.6M38.6 671.3h2.6M334 671.3h-2.6M38.6 656.55h2.6M334 656.55h-2.6" stroke="#333" stroke-width="1" fill="none"/>
<path d="M38.1 641.8H334.5" stroke="#7c7c7c" stroke-width="1" fill="none"/>
<path d="M38.1 789.3H334.5" stroke="#6a6a6a" stroke-width="1" fill="none"/>
<path d="M38.6 641.3V789.8M334 641.3V789.8" stroke="#505050" stroke-width="1" fill="none"/>
<clipPath id="cp-g"><rect x="38.1" y="641.3" width="296.4" height="148.5"/></clipPath>
<text transform="translate(33.3,794) scale(1,0.91)" font-size="11.35" text-anchor="end">0</text>
<text transform="translate(33.3,779.25) scale(1,0.91)" font-size="11.35" text-anchor="end">0.5</text>
<text transform="translate(33.3,764.5) scale(1,0.91)" font-size="11.35" text-anchor="end">1</text>
<text transform="translate(33.3,749.75) scale(1,0.91)" font-size="11.35" text-anchor="end">1.5</text>
<text transform="translate(33.3,735) scale(1,0.91)" font-size="11.35" text-anchor="end">2</text>
<text transform="translate(33.3,720.25) scale(1,0.91)" font-size="11.35" text-anchor="end">2.5</text>
<text transform="translate(33.3,705.5) scale(1,0.91)" font-size="11.35" text-anchor="end">3</text>
<text transform="translate(33.3,690.75) scale(1,0.91)" font-size="11.35" text-anchor="end">3.5</text>
<text transform="translate(33.3,676) scale(1,0.91)" font-size="11.35" text-anchor="end">4</text>
<text transform="translate(33.3,661.25) scale(1,0.91)" font-size="11.35" text-anchor="end">4.5</text>
<text transform="translate(33.3,646.5) scale(1,0.91)" font-size="11.35" text-anchor="end">5</text>
<text transform="translate(38.6,806.1) scale(1,0.91)" font-size="11.35" text-anchor="middle">0</text>
<text transform="translate(97.68,806.1) scale(1,0.91)" font-size="11.35" text-anchor="middle">2</text>
<text transform="translate(186.3,806.1) scale(1,0.91)" font-size="11.35" text-anchor="middle">5</text>
<text transform="translate(334,806.1) scale(1,0.91)" font-size="11.35" text-anchor="middle">10</text>
<text transform="translate(186.1,823.2) scale(1,0.93)" font-size="13.2" text-anchor="middle">ISL noise [cm]</text>
<text transform="translate(10.3,715.95) rotate(-90)" font-size="12.65" text-anchor="middle">Orbit estimation RMS error [cm]</text>
<text transform="translate(56.1,633.5) scale(1,0.97)" font-size="18" text-anchor="start">(g)</text>
<polyline points="38.6,788.41 97.68,786.64 186.3,782.96 334,776.62" fill="none" stroke="#0000ff" stroke-width="2.6" clip-path="url(#cp-g)"/>
<circle cx="38.6" cy="788.41" r="4.65" fill="#0000ff"/>
<circle cx="97.68" cy="786.64" r="4.65" fill="#0000ff"/>
<circle cx="186.3" cy="782.96" r="4.65" fill="#0000ff"/>
<circle cx="334" cy="776.62" r="4.65" fill="#0000ff"/>
<polyline points="38.6,787.53 97.68,775.61 186.3,751.83 334,710.3" fill="none" stroke="#008000" stroke-width="2.6" stroke-dasharray="7 7" clip-path="url(#cp-g)"/>
<polygon points="33.6,787.53 38.6,781.53 43.6,787.53 38.6,793.53" fill="#008000"/>
<polygon points="92.68,775.61 97.68,769.61 102.68,775.61 97.68,781.61" fill="#008000"/>
<polygon points="181.3,751.83 186.3,745.83 191.3,751.83 186.3,757.83" fill="#008000"/>
<polygon points="329,710.3 334,704.3 339,710.3 334,716.3" fill="#008000"/>
<polyline points="38.6,787.23 97.68,774.34 186.3,752.57 334,711.83" fill="none" stroke="#ff0000" stroke-width="2.6" stroke-dasharray="1.75 1.75" clip-path="url(#cp-g)"/>
<path d="M36.35 784.98L40.85 789.48M36.35 789.48L40.85 784.98" stroke="#ff0000" stroke-width="2.4" fill="none"/>
<path d="M95.43 772.09L99.93 776.59M95.43 776.59L99.93 772.09" stroke="#ff0000" stroke-width="2.4" fill="none"/>
<path d="M184.05 750.32L188.55 754.82M184.05 754.82L188.55 750.32" stroke="#ff0000" stroke-width="2.4" fill="none"/>
<path d="M331.75 709.58L336.25 714.08M331.75 714.08L336.25 709.58" stroke="#ff0000" stroke-width="2.4" fill="none"/>
<polyline points="38.6,785.88 97.68,768.44 186.3,736.5 334,678.26" fill="none" stroke="#000000" stroke-width="2.6" stroke-dasharray="7 2.33 2.33 2.33" clip-path="url(#cp-g)"/>
<rect x="34.85" y="782.13" width="7.5" height="7.5" fill="#000"/>
<rect x="93.93" y="764.69" width="7.5" height="7.5" fill="#000"/>
<rect x="182.55" y="732.75" width="7.5" height="7.5" fill="#000"/>
<rect x="330.25" y="674.51" width="7.5" height="7.5" fill="#000"/>
</g>
<g id="legend">
<rect x="409.4" y="663.2" width="209.2" height="126.2" fill="#fff" stroke="#858585" stroke-width="1"/>
<path d="M408.9 789.4H619.1" stroke="#5c5c5c" stroke-width="1" fill="none"/>
<polyline points="459.1,680.8 494.1,680.8" fill="none" stroke="#0000ff" stroke-width="2.6"/>
<circle cx="476.6" cy="680.8" r="4.65" fill="#0000ff"/>
<text transform="translate(496.9,685.6) scale(1,0.93)" font-size="11.3" text-anchor="start">Radial</text>
<polyline points="459.1,711.1 494.1,711.1" fill="none" stroke="#008000" stroke-width="2.6" stroke-dasharray="7 7"/>
<polygon points="471.6,711.1 476.6,705.1 481.6,711.1 476.6,717.1" fill="#008000"/>
<text transform="translate(496.9,715.9) scale(1,0.93)" font-size="11.3" text-anchor="start">Along-track</text>
<polyline points="459.1,741.4 494.1,741.4" fill="none" stroke="#ff0000" stroke-width="2.6" stroke-dasharray="1.75 1.75"/>
<path d="M474.35 739.15L478.85 743.65M474.35 743.65L478.85 739.15" stroke="#ff0000" stroke-width="2.4" fill="none"/>
<text transform="translate(496.9,746.2) scale(1,0.93)" font-size="11.3" text-anchor="start">Cross-track</text>
<polyline points="459.1,771.5 494.1,771.5" fill="none" stroke="#000000" stroke-width="2.6" stroke-dasharray="7 2.33 2.33 2.33"/>
<rect x="472.85" y="767.75" width="7.5" height="7.5" fill="#000"/>
<text transform="translate(496.9,776.3) scale(1,0.93)" font-size="11.3" text-anchor="start">Total 3D RMS</text>
</g>
</svg>
</body></html>
